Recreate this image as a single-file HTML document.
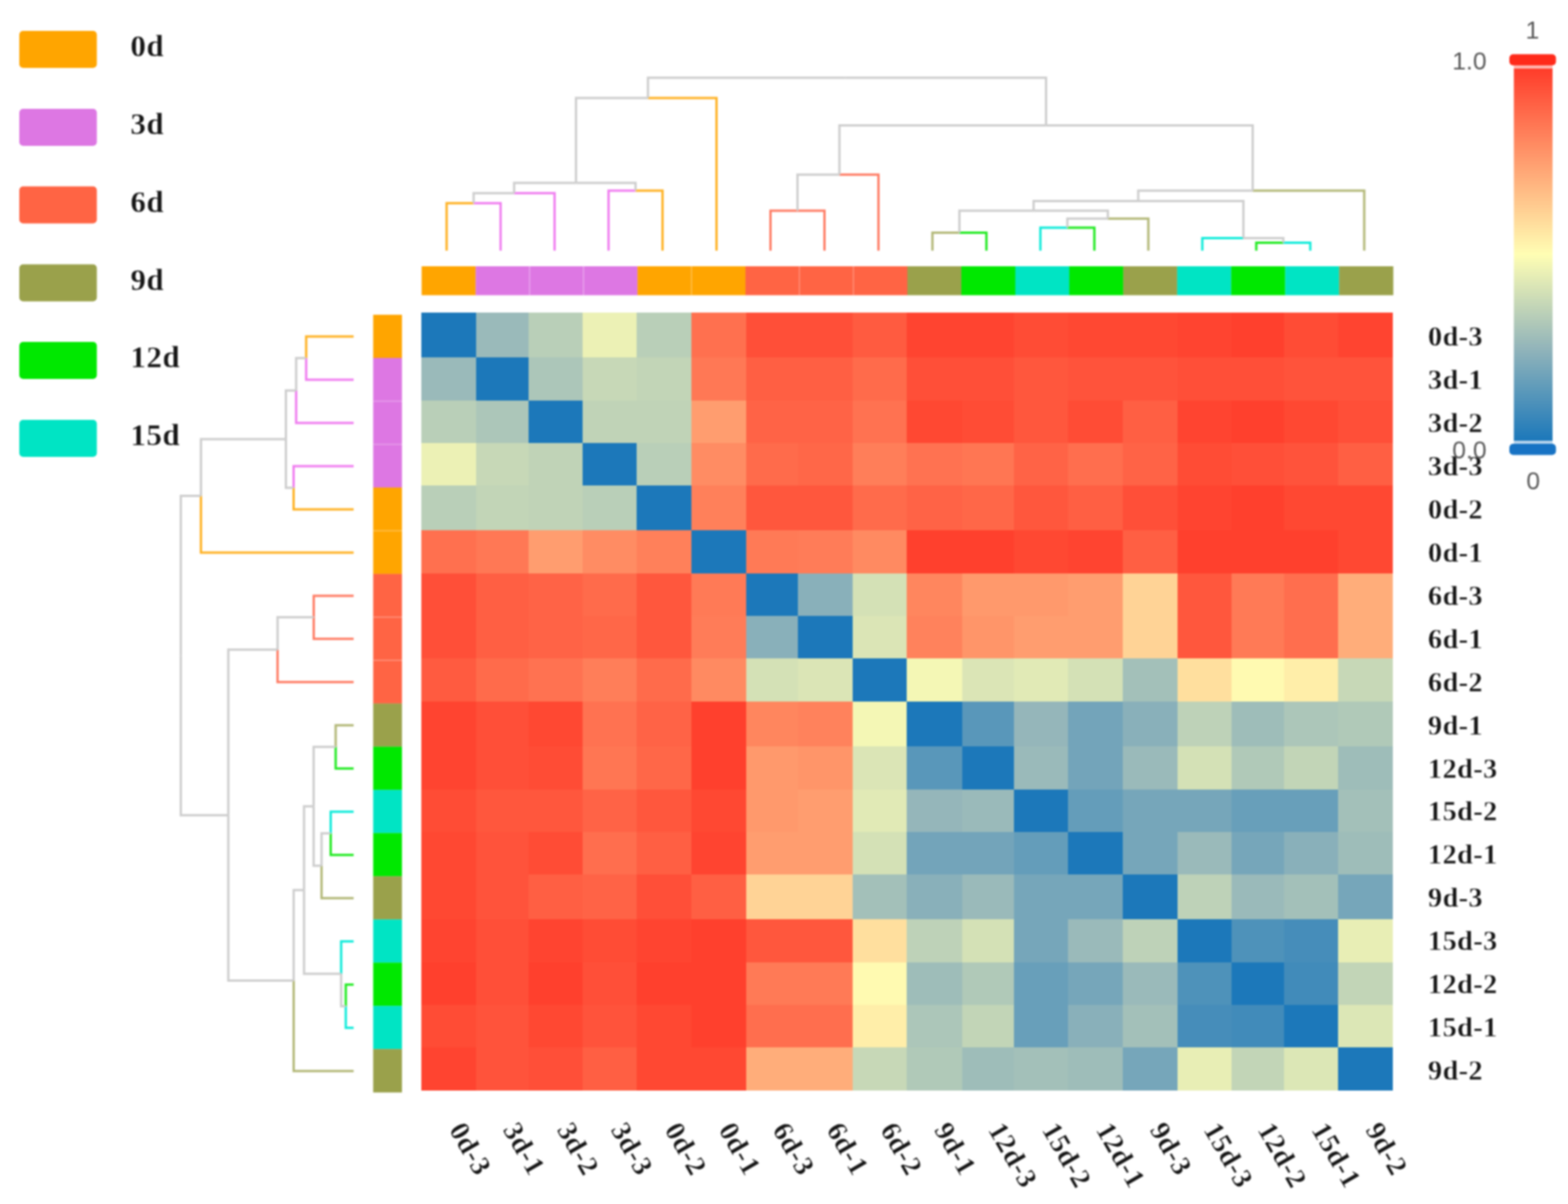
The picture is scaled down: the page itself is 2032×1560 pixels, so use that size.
<!DOCTYPE html>
<html lang="en"><head><meta charset="utf-8"><title>Clustered distance heatmap</title>
<style>
html,body{margin:0;padding:0;background:#fff;}
body{width:2032px;height:1560px;overflow:hidden;}
svg{display:block;}
.lg{font-family:"Liberation Serif","DejaVu Serif",serif;font-weight:bold;font-size:40.2px;letter-spacing:0.6px;fill:#161616;stroke:#fff;stroke-width:0.35px;}
.rl{font-family:"Liberation Serif","DejaVu Serif",serif;font-weight:bold;font-size:36.6px;letter-spacing:0.55px;fill:#161616;stroke:#fff;stroke-width:0.35px;}
.cl{font-family:"Liberation Serif","DejaVu Serif",serif;font-weight:bold;font-size:36.6px;letter-spacing:0.55px;fill:#161616;stroke:#fff;stroke-width:0.35px;}
.cb{font-family:"Liberation Sans","DejaVu Sans",sans-serif;font-size:32px;fill:#5a5a5a;}
</style></head><body>
<svg width="2032" height="1560" viewBox="0 0 2032 1560" role="img" aria-label="Clustered distance heatmap">
<defs><linearGradient id="vm" x1="0" y1="0" x2="0" y2="1"><stop offset="0" stop-color="#ff3c2a"/><stop offset="0.5" stop-color="#fffeb4"/><stop offset="0.75" stop-color="#93b5ba"/><stop offset="1" stop-color="#1c78ba"/></linearGradient><filter id="soft" x="0" y="0" width="2032" height="1560" filterUnits="userSpaceOnUse" color-interpolation-filters="sRGB"><feGaussianBlur stdDeviation="0.8"/></filter></defs>
<rect width="2032" height="1560" fill="#fff"/>
<g id="chart" filter="url(#soft)">
<g id="legend">
<rect x="25" y="40" width="100.5" height="48" rx="5" ry="5" fill="#ffa500"/>
<text class="lg" x="169" y="73">0d</text>
<rect x="25" y="141" width="100.5" height="48" rx="5" ry="5" fill="#dd77e3"/>
<text class="lg" x="169" y="174">3d</text>
<rect x="25" y="241.5" width="100.5" height="48" rx="5" ry="5" fill="#ff6444"/>
<text class="lg" x="169" y="274.5">6d</text>
<rect x="25" y="342.5" width="100.5" height="48" rx="5" ry="5" fill="#9aa14b"/>
<text class="lg" x="169" y="375.5">9d</text>
<rect x="25" y="443" width="100.5" height="48" rx="5" ry="5" fill="#00e800"/>
<text class="lg" x="169" y="476">12d</text>
<rect x="25" y="544" width="100.5" height="48" rx="5" ry="5" fill="#00e4c4"/>
<text class="lg" x="169" y="577">15d</text>
</g>
<g id="heatmap" shape-rendering="crispEdges">
<rect x="546" y="405" width="71.6" height="58.9" fill="#1c78ba"/>
<rect x="617" y="405" width="68.6" height="58.9" fill="#9ababa"/>
<rect x="685" y="405" width="70.6" height="58.9" fill="#b9cfb8"/>
<rect x="755" y="405" width="70.9" height="58.9" fill="#ecf1b5"/>
<rect x="825.3" y="405" width="71.3" height="58.9" fill="#b9cfb8"/>
<rect x="896" y="405" width="71.3" height="58.9" fill="#ff704f"/>
<rect x="966.7" y="405" width="68.2" height="58.9" fill="#ff4f38"/>
<rect x="1034.3" y="405" width="71.6" height="58.9" fill="#ff4f38"/>
<rect x="1105.3" y="405" width="70.6" height="58.9" fill="#ff5b40"/>
<rect x="1175.3" y="405" width="72.3" height="58.9" fill="#ff4430"/>
<rect x="1247" y="405" width="67.9" height="58.9" fill="#ff4430"/>
<rect x="1314.3" y="405" width="70.6" height="58.9" fill="#ff4c35"/>
<rect x="1384.3" y="405" width="71.6" height="58.9" fill="#ff4832"/>
<rect x="1455.3" y="405" width="71.3" height="58.9" fill="#ff4832"/>
<rect x="1526" y="405" width="70.6" height="58.9" fill="#ff4430"/>
<rect x="1596" y="405" width="68.9" height="58.9" fill="#ff402d"/>
<rect x="1664.3" y="405" width="70.6" height="58.9" fill="#ff4c35"/>
<rect x="1734.3" y="405" width="71" height="58.9" fill="#ff4430"/>
<rect x="546" y="463.3" width="71.6" height="56.3" fill="#9ababa"/>
<rect x="617" y="463.3" width="68.6" height="56.3" fill="#1c78ba"/>
<rect x="685" y="463.3" width="70.6" height="56.3" fill="#acc6b9"/>
<rect x="755" y="463.3" width="70.9" height="56.3" fill="#c7d8b7"/>
<rect x="825.3" y="463.3" width="71.3" height="56.3" fill="#c2d5b7"/>
<rect x="896" y="463.3" width="71.3" height="56.3" fill="#ff7855"/>
<rect x="966.7" y="463.3" width="68.2" height="56.3" fill="#ff5f43"/>
<rect x="1034.3" y="463.3" width="71.6" height="56.3" fill="#ff5f43"/>
<rect x="1105.3" y="463.3" width="70.6" height="56.3" fill="#ff6b4b"/>
<rect x="1175.3" y="463.3" width="72.3" height="56.3" fill="#ff4f38"/>
<rect x="1247" y="463.3" width="67.9" height="56.3" fill="#ff4f38"/>
<rect x="1314.3" y="463.3" width="70.6" height="56.3" fill="#ff573d"/>
<rect x="1384.3" y="463.3" width="71.6" height="56.3" fill="#ff533b"/>
<rect x="1455.3" y="463.3" width="71.3" height="56.3" fill="#ff533b"/>
<rect x="1526" y="463.3" width="70.6" height="56.3" fill="#ff4f38"/>
<rect x="1596" y="463.3" width="68.9" height="56.3" fill="#ff4f38"/>
<rect x="1664.3" y="463.3" width="70.6" height="56.3" fill="#ff533b"/>
<rect x="1734.3" y="463.3" width="71" height="56.3" fill="#ff533b"/>
<rect x="546" y="519" width="71.6" height="55.9" fill="#b9cfb8"/>
<rect x="617" y="519" width="68.6" height="55.9" fill="#acc6b9"/>
<rect x="685" y="519" width="70.6" height="55.9" fill="#1c78ba"/>
<rect x="755" y="519" width="70.9" height="55.9" fill="#c0d3b7"/>
<rect x="825.3" y="519" width="71.3" height="55.9" fill="#c0d3b7"/>
<rect x="896" y="519" width="71.3" height="55.9" fill="#ff9d6f"/>
<rect x="966.7" y="519" width="68.2" height="55.9" fill="#ff6346"/>
<rect x="1034.3" y="519" width="71.6" height="55.9" fill="#ff6346"/>
<rect x="1105.3" y="519" width="70.6" height="55.9" fill="#ff7251"/>
<rect x="1175.3" y="519" width="72.3" height="55.9" fill="#ff4832"/>
<rect x="1247" y="519" width="67.9" height="55.9" fill="#ff4c35"/>
<rect x="1314.3" y="519" width="70.6" height="55.9" fill="#ff573d"/>
<rect x="1384.3" y="519" width="71.6" height="55.9" fill="#ff4c35"/>
<rect x="1455.3" y="519" width="71.3" height="55.9" fill="#ff5f43"/>
<rect x="1526" y="519" width="70.6" height="55.9" fill="#ff4430"/>
<rect x="1596" y="519" width="68.9" height="55.9" fill="#ff402d"/>
<rect x="1664.3" y="519" width="70.6" height="55.9" fill="#ff4832"/>
<rect x="1734.3" y="519" width="71" height="55.9" fill="#ff4f38"/>
<rect x="546" y="574.3" width="71.6" height="55.6" fill="#ecf1b5"/>
<rect x="617" y="574.3" width="68.6" height="55.6" fill="#c7d8b7"/>
<rect x="685" y="574.3" width="70.6" height="55.6" fill="#c0d3b7"/>
<rect x="755" y="574.3" width="70.9" height="55.6" fill="#1c78ba"/>
<rect x="825.3" y="574.3" width="71.3" height="55.6" fill="#b9cfb8"/>
<rect x="896" y="574.3" width="71.3" height="55.6" fill="#ff8c63"/>
<rect x="966.7" y="574.3" width="68.2" height="55.6" fill="#ff6b4b"/>
<rect x="1034.3" y="574.3" width="71.6" height="55.6" fill="#ff6748"/>
<rect x="1105.3" y="574.3" width="70.6" height="55.6" fill="#ff7e59"/>
<rect x="1175.3" y="574.3" width="72.3" height="55.6" fill="#ff7251"/>
<rect x="1247" y="574.3" width="67.9" height="55.6" fill="#ff7653"/>
<rect x="1314.3" y="574.3" width="70.6" height="55.6" fill="#ff6346"/>
<rect x="1384.3" y="574.3" width="71.6" height="55.6" fill="#ff6e4e"/>
<rect x="1455.3" y="574.3" width="71.3" height="55.6" fill="#ff6346"/>
<rect x="1526" y="574.3" width="70.6" height="55.6" fill="#ff4c35"/>
<rect x="1596" y="574.3" width="68.9" height="55.6" fill="#ff4f38"/>
<rect x="1664.3" y="574.3" width="70.6" height="55.6" fill="#ff533b"/>
<rect x="1734.3" y="574.3" width="71" height="55.6" fill="#ff5f43"/>
<rect x="546" y="629.3" width="71.6" height="58.6" fill="#b9cfb8"/>
<rect x="617" y="629.3" width="68.6" height="58.6" fill="#c2d5b7"/>
<rect x="685" y="629.3" width="70.6" height="58.6" fill="#c0d3b7"/>
<rect x="755" y="629.3" width="70.9" height="58.6" fill="#b9cfb8"/>
<rect x="825.3" y="629.3" width="71.3" height="58.6" fill="#1c78ba"/>
<rect x="896" y="629.3" width="71.3" height="58.6" fill="#ff805a"/>
<rect x="966.7" y="629.3" width="68.2" height="58.6" fill="#ff573d"/>
<rect x="1034.3" y="629.3" width="71.6" height="58.6" fill="#ff573d"/>
<rect x="1105.3" y="629.3" width="70.6" height="58.6" fill="#ff6b4b"/>
<rect x="1175.3" y="629.3" width="72.3" height="58.6" fill="#ff6346"/>
<rect x="1247" y="629.3" width="67.9" height="58.6" fill="#ff6748"/>
<rect x="1314.3" y="629.3" width="70.6" height="58.6" fill="#ff573d"/>
<rect x="1384.3" y="629.3" width="71.6" height="58.6" fill="#ff5f43"/>
<rect x="1455.3" y="629.3" width="71.3" height="58.6" fill="#ff4f38"/>
<rect x="1526" y="629.3" width="70.6" height="58.6" fill="#ff4430"/>
<rect x="1596" y="629.3" width="68.9" height="58.6" fill="#ff402d"/>
<rect x="1664.3" y="629.3" width="70.6" height="58.6" fill="#ff4832"/>
<rect x="1734.3" y="629.3" width="71" height="58.6" fill="#ff4832"/>
<rect x="546" y="687.3" width="71.6" height="56" fill="#ff704f"/>
<rect x="617" y="687.3" width="68.6" height="56" fill="#ff7855"/>
<rect x="685" y="687.3" width="70.6" height="56" fill="#ff9d6f"/>
<rect x="755" y="687.3" width="70.9" height="56" fill="#ff8c63"/>
<rect x="825.3" y="687.3" width="71.3" height="56" fill="#ff805a"/>
<rect x="896" y="687.3" width="71.3" height="56" fill="#1c78ba"/>
<rect x="966.7" y="687.3" width="68.2" height="56" fill="#ff7a56"/>
<rect x="1034.3" y="687.3" width="71.6" height="56" fill="#ff7c58"/>
<rect x="1105.3" y="687.3" width="70.6" height="56" fill="#ff8a61"/>
<rect x="1175.3" y="687.3" width="72.3" height="56" fill="#ff402d"/>
<rect x="1247" y="687.3" width="67.9" height="56" fill="#ff402d"/>
<rect x="1314.3" y="687.3" width="70.6" height="56" fill="#ff4832"/>
<rect x="1384.3" y="687.3" width="71.6" height="56" fill="#ff4430"/>
<rect x="1455.3" y="687.3" width="71.3" height="56" fill="#ff5f43"/>
<rect x="1526" y="687.3" width="70.6" height="56" fill="#ff402d"/>
<rect x="1596" y="687.3" width="68.9" height="56" fill="#ff402d"/>
<rect x="1664.3" y="687.3" width="70.6" height="56" fill="#ff402d"/>
<rect x="1734.3" y="687.3" width="71" height="56" fill="#ff4832"/>
<rect x="546" y="742.7" width="71.6" height="56.2" fill="#ff4f38"/>
<rect x="617" y="742.7" width="68.6" height="56.2" fill="#ff5f43"/>
<rect x="685" y="742.7" width="70.6" height="56.2" fill="#ff6346"/>
<rect x="755" y="742.7" width="70.9" height="56.2" fill="#ff6b4b"/>
<rect x="825.3" y="742.7" width="71.3" height="56.2" fill="#ff573d"/>
<rect x="896" y="742.7" width="71.3" height="56.2" fill="#ff7a56"/>
<rect x="966.7" y="742.7" width="68.2" height="56.2" fill="#1c78ba"/>
<rect x="1034.3" y="742.7" width="71.6" height="56.2" fill="#89b0ba"/>
<rect x="1105.3" y="742.7" width="70.6" height="56.2" fill="#d4e1b6"/>
<rect x="1175.3" y="742.7" width="72.3" height="56.2" fill="#ff865e"/>
<rect x="1247" y="742.7" width="67.9" height="56.2" fill="#ff996c"/>
<rect x="1314.3" y="742.7" width="70.6" height="56.2" fill="#ff996c"/>
<rect x="1384.3" y="742.7" width="71.6" height="56.2" fill="#ff9d6f"/>
<rect x="1455.3" y="742.7" width="71.3" height="56.2" fill="#ffd396"/>
<rect x="1526" y="742.7" width="70.6" height="56.2" fill="#ff573d"/>
<rect x="1596" y="742.7" width="68.9" height="56.2" fill="#ff7a56"/>
<rect x="1664.3" y="742.7" width="70.6" height="56.2" fill="#ff6e4e"/>
<rect x="1734.3" y="742.7" width="71" height="56.2" fill="#ffad7a"/>
<rect x="546" y="798.3" width="71.6" height="55.6" fill="#ff4f38"/>
<rect x="617" y="798.3" width="68.6" height="55.6" fill="#ff5f43"/>
<rect x="685" y="798.3" width="70.6" height="55.6" fill="#ff6346"/>
<rect x="755" y="798.3" width="70.9" height="55.6" fill="#ff6748"/>
<rect x="825.3" y="798.3" width="71.3" height="55.6" fill="#ff573d"/>
<rect x="896" y="798.3" width="71.3" height="55.6" fill="#ff7c58"/>
<rect x="966.7" y="798.3" width="68.2" height="55.6" fill="#89b0ba"/>
<rect x="1034.3" y="798.3" width="71.6" height="55.6" fill="#1c78ba"/>
<rect x="1105.3" y="798.3" width="70.6" height="55.6" fill="#dbe5b6"/>
<rect x="1175.3" y="798.3" width="72.3" height="55.6" fill="#ff825c"/>
<rect x="1247" y="798.3" width="67.9" height="55.6" fill="#ff9569"/>
<rect x="1314.3" y="798.3" width="70.6" height="55.6" fill="#ff9d6f"/>
<rect x="1384.3" y="798.3" width="71.6" height="55.6" fill="#ff9d6f"/>
<rect x="1455.3" y="798.3" width="71.3" height="55.6" fill="#ffd396"/>
<rect x="1526" y="798.3" width="70.6" height="55.6" fill="#ff573d"/>
<rect x="1596" y="798.3" width="68.9" height="55.6" fill="#ff7a56"/>
<rect x="1664.3" y="798.3" width="70.6" height="55.6" fill="#ff6e4e"/>
<rect x="1734.3" y="798.3" width="71" height="55.6" fill="#ffad7a"/>
<rect x="546" y="853.3" width="71.6" height="56.6" fill="#ff5b40"/>
<rect x="617" y="853.3" width="68.6" height="56.6" fill="#ff6b4b"/>
<rect x="685" y="853.3" width="70.6" height="56.6" fill="#ff7251"/>
<rect x="755" y="853.3" width="70.9" height="56.6" fill="#ff7e59"/>
<rect x="825.3" y="853.3" width="71.3" height="56.6" fill="#ff6b4b"/>
<rect x="896" y="853.3" width="71.3" height="56.6" fill="#ff8a61"/>
<rect x="966.7" y="853.3" width="68.2" height="56.6" fill="#d4e1b6"/>
<rect x="1034.3" y="853.3" width="71.6" height="56.6" fill="#dbe5b6"/>
<rect x="1105.3" y="853.3" width="70.6" height="56.6" fill="#1c78ba"/>
<rect x="1175.3" y="853.3" width="72.3" height="56.6" fill="#f4f7b5"/>
<rect x="1247" y="853.3" width="67.9" height="56.6" fill="#dbe5b6"/>
<rect x="1314.3" y="853.3" width="70.6" height="56.6" fill="#e1eab6"/>
<rect x="1384.3" y="853.3" width="71.6" height="56.6" fill="#d4e1b6"/>
<rect x="1455.3" y="853.3" width="71.3" height="56.6" fill="#a3c0b9"/>
<rect x="1526" y="853.3" width="70.6" height="56.6" fill="#ffdf9e"/>
<rect x="1596" y="853.3" width="68.9" height="56.6" fill="#fffab1"/>
<rect x="1664.3" y="853.3" width="70.6" height="56.6" fill="#ffeea9"/>
<rect x="1734.3" y="853.3" width="71" height="56.6" fill="#c7d8b7"/>
<rect x="546" y="909.3" width="71.6" height="58" fill="#ff4430"/>
<rect x="617" y="909.3" width="68.6" height="58" fill="#ff4f38"/>
<rect x="685" y="909.3" width="70.6" height="58" fill="#ff4832"/>
<rect x="755" y="909.3" width="70.9" height="58" fill="#ff7251"/>
<rect x="825.3" y="909.3" width="71.3" height="58" fill="#ff6346"/>
<rect x="896" y="909.3" width="71.3" height="58" fill="#ff402d"/>
<rect x="966.7" y="909.3" width="68.2" height="58" fill="#ff865e"/>
<rect x="1034.3" y="909.3" width="71.6" height="58" fill="#ff825c"/>
<rect x="1105.3" y="909.3" width="70.6" height="58" fill="#f4f7b5"/>
<rect x="1175.3" y="909.3" width="72.3" height="58" fill="#1c78ba"/>
<rect x="1247" y="909.3" width="67.9" height="58" fill="#5997ba"/>
<rect x="1314.3" y="909.3" width="70.6" height="58" fill="#95b6ba"/>
<rect x="1384.3" y="909.3" width="71.6" height="58" fill="#73a4ba"/>
<rect x="1455.3" y="909.3" width="71.3" height="58" fill="#89b0ba"/>
<rect x="1526" y="909.3" width="70.6" height="58" fill="#bed2b8"/>
<rect x="1596" y="909.3" width="68.9" height="58" fill="#9ebdb9"/>
<rect x="1664.3" y="909.3" width="70.6" height="58" fill="#acc6b9"/>
<rect x="1734.3" y="909.3" width="71" height="58" fill="#b0c9b8"/>
<rect x="546" y="966.7" width="71.6" height="56.6" fill="#ff4430"/>
<rect x="617" y="966.7" width="68.6" height="56.6" fill="#ff4f38"/>
<rect x="685" y="966.7" width="70.6" height="56.6" fill="#ff4c35"/>
<rect x="755" y="966.7" width="70.9" height="56.6" fill="#ff7653"/>
<rect x="825.3" y="966.7" width="71.3" height="56.6" fill="#ff6748"/>
<rect x="896" y="966.7" width="71.3" height="56.6" fill="#ff402d"/>
<rect x="966.7" y="966.7" width="68.2" height="56.6" fill="#ff996c"/>
<rect x="1034.3" y="966.7" width="71.6" height="56.6" fill="#ff9569"/>
<rect x="1105.3" y="966.7" width="70.6" height="56.6" fill="#dbe5b6"/>
<rect x="1175.3" y="966.7" width="72.3" height="56.6" fill="#5997ba"/>
<rect x="1247" y="966.7" width="67.9" height="56.6" fill="#1c78ba"/>
<rect x="1314.3" y="966.7" width="70.6" height="56.6" fill="#9ababa"/>
<rect x="1384.3" y="966.7" width="71.6" height="56.6" fill="#73a4ba"/>
<rect x="1455.3" y="966.7" width="71.3" height="56.6" fill="#9ababa"/>
<rect x="1526" y="966.7" width="70.6" height="56.6" fill="#d4e1b6"/>
<rect x="1596" y="966.7" width="68.9" height="56.6" fill="#b0c9b8"/>
<rect x="1664.3" y="966.7" width="70.6" height="56.6" fill="#c2d5b7"/>
<rect x="1734.3" y="966.7" width="71" height="56.6" fill="#9ebdb9"/>
<rect x="546" y="1022.7" width="71.6" height="56.2" fill="#ff4c35"/>
<rect x="617" y="1022.7" width="68.6" height="56.2" fill="#ff573d"/>
<rect x="685" y="1022.7" width="70.6" height="56.2" fill="#ff573d"/>
<rect x="755" y="1022.7" width="70.9" height="56.2" fill="#ff6346"/>
<rect x="825.3" y="1022.7" width="71.3" height="56.2" fill="#ff573d"/>
<rect x="896" y="1022.7" width="71.3" height="56.2" fill="#ff4832"/>
<rect x="966.7" y="1022.7" width="68.2" height="56.2" fill="#ff996c"/>
<rect x="1034.3" y="1022.7" width="71.6" height="56.2" fill="#ff9d6f"/>
<rect x="1105.3" y="1022.7" width="70.6" height="56.2" fill="#e1eab6"/>
<rect x="1175.3" y="1022.7" width="72.3" height="56.2" fill="#95b6ba"/>
<rect x="1247" y="1022.7" width="67.9" height="56.2" fill="#9ababa"/>
<rect x="1314.3" y="1022.7" width="70.6" height="56.2" fill="#1c78ba"/>
<rect x="1384.3" y="1022.7" width="71.6" height="56.2" fill="#649dba"/>
<rect x="1455.3" y="1022.7" width="71.3" height="56.2" fill="#76a6ba"/>
<rect x="1526" y="1022.7" width="70.6" height="56.2" fill="#76a6ba"/>
<rect x="1596" y="1022.7" width="68.9" height="56.2" fill="#689fba"/>
<rect x="1664.3" y="1022.7" width="70.6" height="56.2" fill="#689fba"/>
<rect x="1734.3" y="1022.7" width="71" height="56.2" fill="#a3c0b9"/>
<rect x="546" y="1078.3" width="71.6" height="55.6" fill="#ff4832"/>
<rect x="617" y="1078.3" width="68.6" height="55.6" fill="#ff533b"/>
<rect x="685" y="1078.3" width="70.6" height="55.6" fill="#ff4c35"/>
<rect x="755" y="1078.3" width="70.9" height="55.6" fill="#ff6e4e"/>
<rect x="825.3" y="1078.3" width="71.3" height="55.6" fill="#ff5f43"/>
<rect x="896" y="1078.3" width="71.3" height="55.6" fill="#ff4430"/>
<rect x="966.7" y="1078.3" width="68.2" height="55.6" fill="#ff9d6f"/>
<rect x="1034.3" y="1078.3" width="71.6" height="55.6" fill="#ff9d6f"/>
<rect x="1105.3" y="1078.3" width="70.6" height="55.6" fill="#d4e1b6"/>
<rect x="1175.3" y="1078.3" width="72.3" height="55.6" fill="#73a4ba"/>
<rect x="1247" y="1078.3" width="67.9" height="55.6" fill="#73a4ba"/>
<rect x="1314.3" y="1078.3" width="70.6" height="55.6" fill="#649dba"/>
<rect x="1384.3" y="1078.3" width="71.6" height="55.6" fill="#1c78ba"/>
<rect x="1455.3" y="1078.3" width="71.3" height="55.6" fill="#76a6ba"/>
<rect x="1526" y="1078.3" width="70.6" height="55.6" fill="#9ababa"/>
<rect x="1596" y="1078.3" width="68.9" height="55.6" fill="#76a6ba"/>
<rect x="1664.3" y="1078.3" width="70.6" height="55.6" fill="#89b0ba"/>
<rect x="1734.3" y="1078.3" width="71" height="55.6" fill="#9ebdb9"/>
<rect x="546" y="1133.3" width="71.6" height="58.3" fill="#ff4832"/>
<rect x="617" y="1133.3" width="68.6" height="58.3" fill="#ff533b"/>
<rect x="685" y="1133.3" width="70.6" height="58.3" fill="#ff5f43"/>
<rect x="755" y="1133.3" width="70.9" height="58.3" fill="#ff6346"/>
<rect x="825.3" y="1133.3" width="71.3" height="58.3" fill="#ff4f38"/>
<rect x="896" y="1133.3" width="71.3" height="58.3" fill="#ff5f43"/>
<rect x="966.7" y="1133.3" width="68.2" height="58.3" fill="#ffd396"/>
<rect x="1034.3" y="1133.3" width="71.6" height="58.3" fill="#ffd396"/>
<rect x="1105.3" y="1133.3" width="70.6" height="58.3" fill="#a3c0b9"/>
<rect x="1175.3" y="1133.3" width="72.3" height="58.3" fill="#89b0ba"/>
<rect x="1247" y="1133.3" width="67.9" height="58.3" fill="#9ababa"/>
<rect x="1314.3" y="1133.3" width="70.6" height="58.3" fill="#76a6ba"/>
<rect x="1384.3" y="1133.3" width="71.6" height="58.3" fill="#76a6ba"/>
<rect x="1455.3" y="1133.3" width="71.3" height="58.3" fill="#1c78ba"/>
<rect x="1526" y="1133.3" width="70.6" height="58.3" fill="#bed2b8"/>
<rect x="1596" y="1133.3" width="68.9" height="58.3" fill="#9ababa"/>
<rect x="1664.3" y="1133.3" width="70.6" height="58.3" fill="#a3c0b9"/>
<rect x="1734.3" y="1133.3" width="71" height="58.3" fill="#76a6ba"/>
<rect x="546" y="1191" width="71.6" height="56.3" fill="#ff4430"/>
<rect x="617" y="1191" width="68.6" height="56.3" fill="#ff4f38"/>
<rect x="685" y="1191" width="70.6" height="56.3" fill="#ff4430"/>
<rect x="755" y="1191" width="70.9" height="56.3" fill="#ff4c35"/>
<rect x="825.3" y="1191" width="71.3" height="56.3" fill="#ff4430"/>
<rect x="896" y="1191" width="71.3" height="56.3" fill="#ff402d"/>
<rect x="966.7" y="1191" width="68.2" height="56.3" fill="#ff573d"/>
<rect x="1034.3" y="1191" width="71.6" height="56.3" fill="#ff573d"/>
<rect x="1105.3" y="1191" width="70.6" height="56.3" fill="#ffdf9e"/>
<rect x="1175.3" y="1191" width="72.3" height="56.3" fill="#bed2b8"/>
<rect x="1247" y="1191" width="67.9" height="56.3" fill="#d4e1b6"/>
<rect x="1314.3" y="1191" width="70.6" height="56.3" fill="#76a6ba"/>
<rect x="1384.3" y="1191" width="71.6" height="56.3" fill="#9ababa"/>
<rect x="1455.3" y="1191" width="71.3" height="56.3" fill="#bed2b8"/>
<rect x="1526" y="1191" width="70.6" height="56.3" fill="#1c78ba"/>
<rect x="1596" y="1191" width="68.9" height="56.3" fill="#4e92ba"/>
<rect x="1664.3" y="1191" width="70.6" height="56.3" fill="#468dba"/>
<rect x="1734.3" y="1191" width="71" height="56.3" fill="#e8eeb5"/>
<rect x="546" y="1246.7" width="71.6" height="55.6" fill="#ff402d"/>
<rect x="617" y="1246.7" width="68.6" height="55.6" fill="#ff4f38"/>
<rect x="685" y="1246.7" width="70.6" height="55.6" fill="#ff402d"/>
<rect x="755" y="1246.7" width="70.9" height="55.6" fill="#ff4f38"/>
<rect x="825.3" y="1246.7" width="71.3" height="55.6" fill="#ff402d"/>
<rect x="896" y="1246.7" width="71.3" height="55.6" fill="#ff402d"/>
<rect x="966.7" y="1246.7" width="68.2" height="55.6" fill="#ff7a56"/>
<rect x="1034.3" y="1246.7" width="71.6" height="55.6" fill="#ff7a56"/>
<rect x="1105.3" y="1246.7" width="70.6" height="55.6" fill="#fffab1"/>
<rect x="1175.3" y="1246.7" width="72.3" height="55.6" fill="#9ebdb9"/>
<rect x="1247" y="1246.7" width="67.9" height="55.6" fill="#b0c9b8"/>
<rect x="1314.3" y="1246.7" width="70.6" height="55.6" fill="#689fba"/>
<rect x="1384.3" y="1246.7" width="71.6" height="55.6" fill="#76a6ba"/>
<rect x="1455.3" y="1246.7" width="71.3" height="55.6" fill="#9ababa"/>
<rect x="1526" y="1246.7" width="70.6" height="55.6" fill="#4e92ba"/>
<rect x="1596" y="1246.7" width="68.9" height="55.6" fill="#1c78ba"/>
<rect x="1664.3" y="1246.7" width="70.6" height="55.6" fill="#418bba"/>
<rect x="1734.3" y="1246.7" width="71" height="55.6" fill="#c2d5b7"/>
<rect x="546" y="1301.7" width="71.6" height="56.2" fill="#ff4c35"/>
<rect x="617" y="1301.7" width="68.6" height="56.2" fill="#ff533b"/>
<rect x="685" y="1301.7" width="70.6" height="56.2" fill="#ff4832"/>
<rect x="755" y="1301.7" width="70.9" height="56.2" fill="#ff533b"/>
<rect x="825.3" y="1301.7" width="71.3" height="56.2" fill="#ff4832"/>
<rect x="896" y="1301.7" width="71.3" height="56.2" fill="#ff402d"/>
<rect x="966.7" y="1301.7" width="68.2" height="56.2" fill="#ff6e4e"/>
<rect x="1034.3" y="1301.7" width="71.6" height="56.2" fill="#ff6e4e"/>
<rect x="1105.3" y="1301.7" width="70.6" height="56.2" fill="#ffeea9"/>
<rect x="1175.3" y="1301.7" width="72.3" height="56.2" fill="#acc6b9"/>
<rect x="1247" y="1301.7" width="67.9" height="56.2" fill="#c2d5b7"/>
<rect x="1314.3" y="1301.7" width="70.6" height="56.2" fill="#689fba"/>
<rect x="1384.3" y="1301.7" width="71.6" height="56.2" fill="#89b0ba"/>
<rect x="1455.3" y="1301.7" width="71.3" height="56.2" fill="#a3c0b9"/>
<rect x="1526" y="1301.7" width="70.6" height="56.2" fill="#468dba"/>
<rect x="1596" y="1301.7" width="68.9" height="56.2" fill="#418bba"/>
<rect x="1664.3" y="1301.7" width="70.6" height="56.2" fill="#1c78ba"/>
<rect x="1734.3" y="1301.7" width="71" height="56.2" fill="#dce7b6"/>
<rect x="546" y="1357.3" width="71.6" height="55.5" fill="#ff4430"/>
<rect x="617" y="1357.3" width="68.6" height="55.5" fill="#ff533b"/>
<rect x="685" y="1357.3" width="70.6" height="55.5" fill="#ff4f38"/>
<rect x="755" y="1357.3" width="70.9" height="55.5" fill="#ff5f43"/>
<rect x="825.3" y="1357.3" width="71.3" height="55.5" fill="#ff4832"/>
<rect x="896" y="1357.3" width="71.3" height="55.5" fill="#ff4832"/>
<rect x="966.7" y="1357.3" width="68.2" height="55.5" fill="#ffad7a"/>
<rect x="1034.3" y="1357.3" width="71.6" height="55.5" fill="#ffad7a"/>
<rect x="1105.3" y="1357.3" width="70.6" height="55.5" fill="#c7d8b7"/>
<rect x="1175.3" y="1357.3" width="72.3" height="55.5" fill="#b0c9b8"/>
<rect x="1247" y="1357.3" width="67.9" height="55.5" fill="#9ebdb9"/>
<rect x="1314.3" y="1357.3" width="70.6" height="55.5" fill="#a3c0b9"/>
<rect x="1384.3" y="1357.3" width="71.6" height="55.5" fill="#9ebdb9"/>
<rect x="1455.3" y="1357.3" width="71.3" height="55.5" fill="#76a6ba"/>
<rect x="1526" y="1357.3" width="70.6" height="55.5" fill="#e8eeb5"/>
<rect x="1596" y="1357.3" width="68.9" height="55.5" fill="#c2d5b7"/>
<rect x="1664.3" y="1357.3" width="70.6" height="55.5" fill="#dce7b6"/>
<rect x="1734.3" y="1357.3" width="71" height="55.5" fill="#1c78ba"/>
</g>
<g id="colbar">
<rect x="546.4" y="345" width="70.24" height="37.5" fill="#ffa500"/>
<rect x="616.34" y="345" width="70.24" height="37.5" fill="#dd77e3"/>
<rect x="686.28" y="345" width="70.24" height="37.5" fill="#dd77e3"/>
<rect x="756.22" y="345" width="70.24" height="37.5" fill="#dd77e3"/>
<rect x="826.16" y="345" width="70.24" height="37.5" fill="#ffa500"/>
<rect x="896.09" y="345" width="70.24" height="37.5" fill="#ffa500"/>
<rect x="966.03" y="345" width="70.24" height="37.5" fill="#ff6444"/>
<rect x="1035.97" y="345" width="70.24" height="37.5" fill="#ff6444"/>
<rect x="1105.91" y="345" width="70.24" height="37.5" fill="#ff6444"/>
<rect x="1175.85" y="345" width="70.24" height="37.5" fill="#9aa14b"/>
<rect x="1245.79" y="345" width="70.24" height="37.5" fill="#00e800"/>
<rect x="1315.73" y="345" width="70.24" height="37.5" fill="#00e4c4"/>
<rect x="1385.67" y="345" width="70.24" height="37.5" fill="#00e800"/>
<rect x="1455.61" y="345" width="70.24" height="37.5" fill="#9aa14b"/>
<rect x="1525.54" y="345" width="70.24" height="37.5" fill="#00e4c4"/>
<rect x="1595.48" y="345" width="70.24" height="37.5" fill="#00e800"/>
<rect x="1665.42" y="345" width="70.24" height="37.5" fill="#00e4c4"/>
<rect x="1735.36" y="345" width="70.24" height="37.5" fill="#9aa14b"/>
<rect x="685.48" y="345" width="1.6" height="37.5" fill="#fff" opacity="0.28"/>
<rect x="755.42" y="345" width="1.6" height="37.5" fill="#fff" opacity="0.28"/>
<rect x="895.29" y="345" width="1.6" height="37.5" fill="#fff" opacity="0.28"/>
<rect x="1035.17" y="345" width="1.6" height="37.5" fill="#fff" opacity="0.28"/>
<rect x="1105.11" y="345" width="1.6" height="37.5" fill="#fff" opacity="0.28"/>
</g>
<g id="rowbar">
<rect x="483.6" y="407.8" width="37.3" height="56.27" fill="#ffa500"/>
<rect x="483.6" y="463.77" width="37.3" height="56.27" fill="#dd77e3"/>
<rect x="483.6" y="519.73" width="37.3" height="56.27" fill="#dd77e3"/>
<rect x="483.6" y="575.7" width="37.3" height="56.27" fill="#dd77e3"/>
<rect x="483.6" y="631.67" width="37.3" height="56.27" fill="#ffa500"/>
<rect x="483.6" y="687.63" width="37.3" height="56.27" fill="#ffa500"/>
<rect x="483.6" y="743.6" width="37.3" height="56.27" fill="#ff6444"/>
<rect x="483.6" y="799.57" width="37.3" height="56.27" fill="#ff6444"/>
<rect x="483.6" y="855.53" width="37.3" height="56.27" fill="#ff6444"/>
<rect x="483.6" y="911.5" width="37.3" height="56.27" fill="#9aa14b"/>
<rect x="483.6" y="967.47" width="37.3" height="56.27" fill="#00e800"/>
<rect x="483.6" y="1023.43" width="37.3" height="56.27" fill="#00e4c4"/>
<rect x="483.6" y="1079.4" width="37.3" height="56.27" fill="#00e800"/>
<rect x="483.6" y="1135.37" width="37.3" height="56.27" fill="#9aa14b"/>
<rect x="483.6" y="1191.33" width="37.3" height="56.27" fill="#00e4c4"/>
<rect x="483.6" y="1247.3" width="37.3" height="56.27" fill="#00e800"/>
<rect x="483.6" y="1303.27" width="37.3" height="56.27" fill="#00e4c4"/>
<rect x="483.6" y="1359.23" width="37.3" height="56.27" fill="#9aa14b"/>
<rect x="483.6" y="518.93" width="37.3" height="1.6" fill="#fff" opacity="0.28"/>
<rect x="483.6" y="574.9" width="37.3" height="1.6" fill="#fff" opacity="0.28"/>
<rect x="483.6" y="686.83" width="37.3" height="1.6" fill="#fff" opacity="0.28"/>
<rect x="483.6" y="798.77" width="37.3" height="1.6" fill="#fff" opacity="0.28"/>
<rect x="483.6" y="854.73" width="37.3" height="1.6" fill="#fff" opacity="0.28"/>
</g>
<g id="dendro-col" fill="none" stroke-width="3.0" stroke-linejoin="miter" stroke-linecap="butt">
<path d="M578.8 324.8V263.3H613.77" stroke="#ffb224"/>
<path d="M648.75 324.8V263.3H613.77" stroke="#f07df0"/>
<path d="M613.77 263.3V250.3H666.24" stroke="#cecece"/>
<path d="M718.7 324.8V250.3H666.24" stroke="#f07df0"/>
<path d="M788.65 324.8V247H823.62" stroke="#f07df0"/>
<path d="M858.6 324.8V247H823.62" stroke="#ffb224"/>
<path d="M666.24 250.3V237H746.43" stroke="#cecece"/>
<path d="M823.62 247V237H746.43" stroke="#cecece"/>
<path d="M746.43 237V126.9H839.74" stroke="#cecece"/>
<path d="M928.55 324.8V126.9H839.74" stroke="#ffb224"/>
<path d="M998.5 324.8V273.1H1033.47" stroke="#ff7c64"/>
<path d="M1068.45 324.8V273.1H1033.47" stroke="#ff7c64"/>
<path d="M1033.47 273.1V226.2H1087.84" stroke="#cecece"/>
<path d="M1138.4 324.8V226.2H1087.84" stroke="#ff7c64"/>
<path d="M1208.35 324.8V301.5H1243.32" stroke="#b3b878"/>
<path d="M1278.3 324.8V301.5H1243.32" stroke="#21ea21"/>
<path d="M1348.25 324.8V295.1H1383.22" stroke="#0febda"/>
<path d="M1418.2 324.8V295.1H1383.22" stroke="#21ea21"/>
<path d="M1383.22 295.1V283.2H1435.69" stroke="#cecece"/>
<path d="M1488.15 324.8V283.2H1435.69" stroke="#b3b878"/>
<path d="M1243.32 301.5V272.9H1339.51" stroke="#cecece"/>
<path d="M1435.69 283.2V272.9H1339.51" stroke="#cecece"/>
<path d="M1628.05 324.8V314.6H1663.03" stroke="#21ea21"/>
<path d="M1698 324.8V314.6H1663.03" stroke="#0febda"/>
<path d="M1558.1 324.8V308.6H1611.36" stroke="#0febda"/>
<path d="M1663.03 314.6V308.6H1611.36" stroke="#cecece"/>
<path d="M1339.51 272.9V260.5H1475.03" stroke="#cecece"/>
<path d="M1611.36 308.6V260.5H1475.03" stroke="#cecece"/>
<path d="M1475.03 260.5V247.1H1623.39" stroke="#cecece"/>
<path d="M1767.95 324.8V247.1H1623.39" stroke="#b3b878"/>
<path d="M1087.84 226.2V162.4H1355.61" stroke="#cecece"/>
<path d="M1623.39 247.1V162.4H1355.61" stroke="#cecece"/>
<path d="M839.74 126.9V100.8H1095.23" stroke="#cecece"/>
<path d="M1355.61 162.4V100.8H1095.23" stroke="#cecece"/>
</g>
<g id="dendro-row" fill="none" stroke-width="3.0" stroke-linejoin="miter" stroke-linecap="butt">
<path d="M458.3 436H396.8V463.99" stroke="#ffb224"/>
<path d="M458.3 491.98H396.8V463.99" stroke="#f07df0"/>
<path d="M396.8 463.99H383.8V505.98" stroke="#cecece"/>
<path d="M458.3 547.96H383.8V505.98" stroke="#f07df0"/>
<path d="M458.3 603.94H380.5V631.93" stroke="#f07df0"/>
<path d="M458.3 659.92H380.5V631.93" stroke="#ffb224"/>
<path d="M383.8 505.98H370.5V568.95" stroke="#cecece"/>
<path d="M380.5 631.93H370.5V568.95" stroke="#cecece"/>
<path d="M370.5 568.95H260.4V642.43" stroke="#cecece"/>
<path d="M458.3 715.9H260.4V642.43" stroke="#ffb224"/>
<path d="M458.3 771.88H406.6V799.87" stroke="#ff7c64"/>
<path d="M458.3 827.86H406.6V799.87" stroke="#ff7c64"/>
<path d="M406.6 799.87H359.7V841.86" stroke="#cecece"/>
<path d="M458.3 883.84H359.7V841.86" stroke="#ff7c64"/>
<path d="M458.3 939.82H435V967.81" stroke="#b3b878"/>
<path d="M458.3 995.8H435V967.81" stroke="#21ea21"/>
<path d="M458.3 1051.78H428.6V1079.77" stroke="#0febda"/>
<path d="M458.3 1107.76H428.6V1079.77" stroke="#21ea21"/>
<path d="M428.6 1079.77H416.7V1121.76" stroke="#cecece"/>
<path d="M458.3 1163.74H416.7V1121.76" stroke="#b3b878"/>
<path d="M435 967.81H406.4V1044.78" stroke="#cecece"/>
<path d="M416.7 1121.76H406.4V1044.78" stroke="#cecece"/>
<path d="M458.3 1275.7H448.1V1303.69" stroke="#21ea21"/>
<path d="M458.3 1331.68H448.1V1303.69" stroke="#0febda"/>
<path d="M458.3 1219.72H442.1V1261.7" stroke="#0febda"/>
<path d="M448.1 1303.69H442.1V1261.7" stroke="#cecece"/>
<path d="M406.4 1044.78H394V1153.24" stroke="#cecece"/>
<path d="M442.1 1261.7H394V1153.24" stroke="#cecece"/>
<path d="M394 1153.24H380.6V1270.45" stroke="#cecece"/>
<path d="M458.3 1387.66H380.6V1270.45" stroke="#b3b878"/>
<path d="M359.7 841.86H295.9V1056.15" stroke="#cecece"/>
<path d="M380.6 1270.45H295.9V1056.15" stroke="#cecece"/>
<path d="M260.4 642.43H234.3V849.29" stroke="#cecece"/>
<path d="M295.9 1056.15H234.3V849.29" stroke="#cecece"/>
</g>
<g id="rowlabels">
<text class="rl" x="1850.6" y="447.7">0d-3</text>
<text class="rl" x="1850.6" y="503.68">3d-1</text>
<text class="rl" x="1850.6" y="559.66">3d-2</text>
<text class="rl" x="1850.6" y="615.64">3d-3</text>
<text class="rl" x="1850.6" y="671.62">0d-2</text>
<text class="rl" x="1850.6" y="727.6">0d-1</text>
<text class="rl" x="1850.6" y="783.58">6d-3</text>
<text class="rl" x="1850.6" y="839.56">6d-1</text>
<text class="rl" x="1850.6" y="895.54">6d-2</text>
<text class="rl" x="1850.6" y="951.52">9d-1</text>
<text class="rl" x="1850.6" y="1007.5">12d-3</text>
<text class="rl" x="1850.6" y="1063.48">15d-2</text>
<text class="rl" x="1850.6" y="1119.46">12d-1</text>
<text class="rl" x="1850.6" y="1175.44">9d-3</text>
<text class="rl" x="1850.6" y="1231.42">15d-3</text>
<text class="rl" x="1850.6" y="1287.4">12d-2</text>
<text class="rl" x="1850.6" y="1343.38">15d-1</text>
<text class="rl" x="1850.6" y="1399.36">9d-2</text>
</g>
<g id="collabels">
<text class="cl" transform="translate(581.2 1463.5) rotate(60)" x="0" y="0">0d-3</text>
<text class="cl" transform="translate(651.05 1463.5) rotate(60)" x="0" y="0">3d-1</text>
<text class="cl" transform="translate(720.9 1463.5) rotate(60)" x="0" y="0">3d-2</text>
<text class="cl" transform="translate(790.75 1463.5) rotate(60)" x="0" y="0">3d-3</text>
<text class="cl" transform="translate(860.6 1463.5) rotate(60)" x="0" y="0">0d-2</text>
<text class="cl" transform="translate(930.45 1463.5) rotate(60)" x="0" y="0">0d-1</text>
<text class="cl" transform="translate(1000.3 1463.5) rotate(60)" x="0" y="0">6d-3</text>
<text class="cl" transform="translate(1070.15 1463.5) rotate(60)" x="0" y="0">6d-1</text>
<text class="cl" transform="translate(1140 1463.5) rotate(60)" x="0" y="0">6d-2</text>
<text class="cl" transform="translate(1209.85 1463.5) rotate(60)" x="0" y="0">9d-1</text>
<text class="cl" transform="translate(1279.7 1463.5) rotate(60)" x="0" y="0">12d-3</text>
<text class="cl" transform="translate(1349.55 1463.5) rotate(60)" x="0" y="0">15d-2</text>
<text class="cl" transform="translate(1419.4 1463.5) rotate(60)" x="0" y="0">12d-1</text>
<text class="cl" transform="translate(1489.25 1463.5) rotate(60)" x="0" y="0">9d-3</text>
<text class="cl" transform="translate(1559.1 1463.5) rotate(60)" x="0" y="0">15d-3</text>
<text class="cl" transform="translate(1628.95 1463.5) rotate(60)" x="0" y="0">12d-2</text>
<text class="cl" transform="translate(1698.8 1463.5) rotate(60)" x="0" y="0">15d-1</text>
<text class="cl" transform="translate(1768.65 1463.5) rotate(60)" x="0" y="0">9d-2</text>
</g>
<g id="visualmap">
<rect x="1961.8" y="84.5" width="50.2" height="491" fill="#fff"/>
<rect x="1961.8" y="84.5" width="50.2" height="4.5" fill="#ffb9b3"/>
<rect x="1961.8" y="571" width="50.2" height="4.5" fill="#b5d3ec"/>
<rect x="1961.8" y="88.8" width="50.2" height="482.2" fill="url(#vm)"/>
<rect x="1956" y="70.3" width="60.4" height="14.4" rx="5" ry="5" fill="#ff2a1a"/>
<rect x="1956" y="575" width="60.4" height="14.4" rx="5" ry="5" fill="#1773c4"/>
<text class="cb" x="1986" y="50" text-anchor="middle">1</text>
<text class="cb" x="1987" y="633.6" text-anchor="middle">0</text>
<text class="cb" x="1926.5" y="90.3" text-anchor="end">1.0</text>
<text class="cb" x="1926.5" y="594.3" text-anchor="end">0.0</text>
</g>
</g>
</svg>
</body></html>
